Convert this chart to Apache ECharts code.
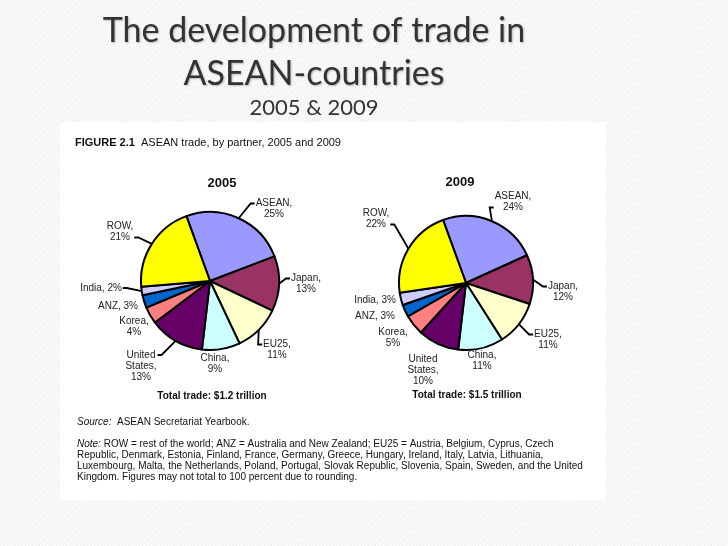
<!DOCTYPE html>
<html>
<head>
<meta charset="utf-8">
<script src="https://cdn.jsdelivr.net/npm/echarts@6/dist/echarts.min.js"></script>
<style>
  html, body { margin: 0; padding: 0; }
  body {
    width: 728px; height: 546px;
    background-color: #fafafa;
    background-image: repeating-linear-gradient(120deg, #f1f1f1 0px, #f1f1f1 1px, transparent 1px, transparent 3px);
  }
  #chart { width: 728px; height: 546px; }
</style>
</head>
<body>
<div id="chart"></div>
<script>
// data (percent of ASEAN trade)
var partners = ['ASEAN', 'Japan', 'EU25', 'China', 'United States', 'Korea', 'ANZ', 'India', 'ROW'];
var labelNames = ['ASEAN,', 'Japan,', 'EU25,', 'China,', 'United\nStates,', 'Korea,', 'ANZ,', 'India,', 'ROW,'];
var share2005 = [25, 13, 11, 9, 13, 4, 3, 2, 21];
var share2009 = [24, 12, 11, 11, 10, 5, 3, 3, 22];
var years = ['2005', '2009'];
var totals = ['$1.2 trillion', '$1.5 trillion'];
var sliceColors = ['#9999ff', '#993366', '#ffffcc', '#ccffff', '#660066', '#ff8080', '#0066cc', '#ccccff', '#ffff00'];

// where the labels sit, relative to the pie centre (they were hand placed in the original)
var labelOffset2005 = [[64, -72], [96, 3], [67, 69], [5, 83], [-69, 85], [-76, 46], [-92, 25], [-109, 7], [-90, -49]];
var labelOffset2009 = [[47, -81], [97, 9], [82, 57], [16, 78], [-43, 87], [-73, 55], [-91, 33], [-91, 17], [-90, -64]];
// which text line the leader line joins (-1 = no leader line)
var leader2005 = [0, 0, 0, -1, 0, -1, -1, 0, 1];
var leader2009 = [1, 0, 0, -1, -1, -1, -1, -1, 1];

var START_ANGLE = 110;
var bodyFont = 'Liberation Sans, Arial, sans-serif';

var myChart = echarts.init(document.getElementById('chart'));

function pieData(values, leaders) {
  return values.map(function (v, i) {
    return {
      value: v,
      name: partners[i],
      itemStyle: { color: sliceColors[i] },
      labelLine: { show: leaders[i] >= 0 }
    };
  });
}

function makeLabelLayout(values, center, radius, offsets, leaders) {
  var total = values.reduce(function (a, b) { return a + b; }, 0);
  return function (params) {
    var i = params.dataIndex;
    var before = 0;
    for (var k = 0; k < i; k++) before += values[k];
    var mid = (START_ANGLE - (before + values[i] / 2) / total * 360) * Math.PI / 180;
    var lx = center[0] + offsets[i][0];
    var ly = center[1] + offsets[i][1];
    var w = params.labelRect.width;
    var h = params.labelRect.height;
    var res = { x: lx, y: ly, align: 'center', verticalAlign: 'middle' };
    if (leaders[i] >= 0) {
      var sx = center[0] + radius * Math.cos(mid);
      var sy = center[1] - radius * Math.sin(mid);
      var toRight = lx > center[0];
      var ex = toRight ? lx - w / 2 - 1 : lx + w / 2 + 1;
      var ey = ly - h / 2 + 5.5 + leaders[i] * 11;
      var hx = toRight ? ex - 4 : ex + 4;
      res.labelLinePoints = [[sx, sy], [hx, ey], [ex, ey]];
    }
    return res;
  };
}

function pieSeries(values, center, radius, offsets, leaders) {
  return {
    type: 'pie',
    center: center,
    radius: radius,
    startAngle: START_ANGLE,
    clockwise: true,
    animation: false,
    silent: true,
    itemStyle: { borderColor: '#000', borderWidth: 2 },
    label: {
      show: true,
      position: 'outside',
      color: '#222',
      fontFamily: bodyFont,
      fontSize: 10,
      lineHeight: 11,
      formatter: function (p) {
        var sep = (p.name === 'ANZ' || p.name === 'India') ? ' ' : '\n';
        return labelNames[p.dataIndex] + sep + p.value + '%';
      }
    },
    labelLine: {
      show: true,
      length: 8,
      length2: 6,
      lineStyle: { color: '#000', width: 1.8 }
    },
    labelLayout: makeLabelLayout(values, center, radius, offsets, leaders),
    data: pieData(values, leaders)
  };
}

var noteLines = [
  'ROW = rest of the world; ANZ = Australia and New Zealand; EU25 = Austria, Belgium, Cyprus, Czech',
  'Republic, Denmark, Estonia, Finland, France, Germany, Greece, Hungary, Ireland, Italy, Latvia, Lithuania,',
  'Luxembourg, Malta, the Netherlands, Poland, Portugal, Slovak Republic, Slovenia, Spain, Sweden, and the United',
  'Kingdom. Figures may not total to 100 percent due to rounding.'
];
var titleShadow = { textShadowColor: 'rgba(0,0,0,0.25)', textShadowBlur: 2, textShadowOffsetX: 1, textShadowOffsetY: 1 };
var italic = { fontStyle: 'italic', fontSize: 10, fontFamily: bodyFont, fill: '#111' };

var option = {
  backgroundColor: 'transparent',
  graphic: [
    { type: 'rect', z: -10, shape: { x: 60, y: 122, width: 546, height: 378 }, style: { fill: '#fff' } },
    // slide title
    { type: 'text', x: 314, y: 31, style: Object.assign({ text: 'The development of trade in', fill: '#333', font: '34px Lato, "Open Sans", sans-serif', align: 'center', verticalAlign: 'middle' }, titleShadow) },
    { type: 'text', x: 314, y: 74, style: Object.assign({ text: 'ASEAN-countries', fill: '#333', font: '34px Lato, "Open Sans", sans-serif', align: 'center', verticalAlign: 'middle' }, titleShadow) },
    { type: 'text', x: 314, y: 108, style: { text: '2005 & 2009', fill: '#333', font: '22px Lato, "Open Sans", sans-serif', align: 'center', verticalAlign: 'middle' } },
    // figure caption
    { type: 'text', x: 75, y: 143, style: { text: '{b|FIGURE 2.1}  ASEAN trade, by partner, 2005 and 2009', fill: '#111', font: '11px ' + bodyFont, verticalAlign: 'middle', rich: { b: { fontWeight: 'bold', fontSize: 11, fontFamily: bodyFont, fill: '#111' } } } },
    // pie titles and totals
    { type: 'text', x: 222, y: 183, style: { text: years[0], fill: '#111', font: 'bold 13px ' + bodyFont, align: 'center', verticalAlign: 'middle' } },
    { type: 'text', x: 460, y: 182, style: { text: years[1], fill: '#111', font: 'bold 13px ' + bodyFont, align: 'center', verticalAlign: 'middle' } },
    { type: 'text', x: 212, y: 396, style: { text: 'Total trade: ' + totals[0], fill: '#111', font: 'bold 10px ' + bodyFont, align: 'center', verticalAlign: 'middle' } },
    { type: 'text', x: 467, y: 395, style: { text: 'Total trade: ' + totals[1], fill: '#111', font: 'bold 10px ' + bodyFont, align: 'center', verticalAlign: 'middle' } },
    // source and note
    { type: 'text', x: 77, y: 422, style: { text: '{i|Source:}  ASEAN Secretariat Yearbook.', fill: '#111', font: '10px ' + bodyFont, verticalAlign: 'middle', rich: { i: italic } } },
    { type: 'text', x: 77, y: 444, style: { text: '{i|Note:} ' + noteLines[0], fill: '#111', font: '10px ' + bodyFont, verticalAlign: 'middle', rich: { i: italic } } },
    { type: 'text', x: 77, y: 455, style: { text: noteLines[1], fill: '#111', font: '10px ' + bodyFont, verticalAlign: 'middle' } },
    { type: 'text', x: 77, y: 466, style: { text: noteLines[2], fill: '#111', font: '10px ' + bodyFont, verticalAlign: 'middle' } },
    { type: 'text', x: 77, y: 477, style: { text: noteLines[3], fill: '#111', font: '10px ' + bodyFont, verticalAlign: 'middle' } }
  ],
  series: [
    pieSeries(share2005, [210, 281], 69, labelOffset2005, leader2005),
    pieSeries(share2009, [466, 283], 67, labelOffset2009, leader2009)
  ]
};

myChart.setOption(option);
</script>
</body>
</html>
